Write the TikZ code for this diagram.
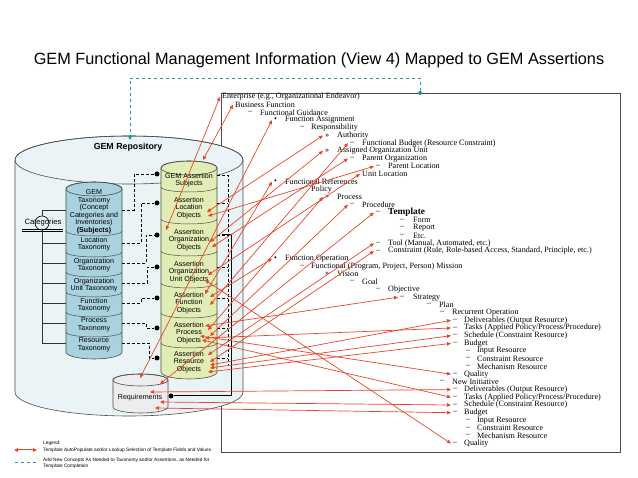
\documentclass[tikz,border=0pt]{standalone}
\usepackage{fontspec}
\setmainfont{Liberation Serif}
\newfontfamily\sans{Liberation Sans}
\usetikzlibrary{arrows.meta}
\definecolor{repo}{HTML}{EAF4F7}
\definecolor{tax}{HTML}{A8D2DE}
\definecolor{ass}{HTML}{E2EDB6}
\definecolor{req}{HTML}{EDEDED}
\definecolor{arr}{HTML}{E8452A}
\definecolor{teal}{HTML}{1A9AA0}
\newcommand{\mycyl}[6]{% x1 x2 ytop ybot ry fill
 \pgfmathsetmacro\rx{(#2-#1)/2}
 \filldraw[fill=#6,draw=black!70,line width=0.6pt] (#1,#3) -- (#1,#4) arc[start angle=180,end angle=0,x radius=\rx,y radius=#5] -- (#2,#3) arc[start angle=0,end angle=-180,x radius=\rx,y radius=#5] -- cycle;
 \draw[draw=black!70,line width=0.6pt] (#1,#3) arc[start angle=180,end angle=-180,x radius=\rx,y radius=#5];}
\newcommand{\mysep}[4]{\pgfmathsetmacro\rx{(#2-#1)/2}\draw[black!70,line width=0.5pt] (#1,#3) arc[start angle=180,end angle=0,x radius=\rx,y radius=#4];}
\newcommand{\PPP}{Tasks (Applied Policy\slash Process\slash Procedure)}
\begin{document}
\begin{tikzpicture}[x=1pt,y=-1pt,
 item/.style={anchor=west,inner sep=0pt,font=\fontsize{8.1}{8.1}\selectfont},
 lab/.style={align=center,inner sep=0pt,font=\sans\fontsize{7.1}{7.5}\selectfont},
 link/.style={arr,line width=0.7pt,{Triangle[length=4pt,width=3.5pt]}-{Triangle[length=4pt,width=3.5pt]}},
 dsh/.style={densely dashed,line width=0.9pt},
 dot/.style={circle,fill=black,inner sep=0pt,minimum size=5pt}]
\useasboundingbox (0,0) rectangle (638,478);
\node[font=\sans\fontsize{16.3}{18}\selectfont] (title) at (319,60) {GEM Functional Management Information (View 4) Mapped to GEM Assertions};
% outline box
\draw[black!70,line width=0.8pt] (221,93) rectangle (620,452);
% repository
\mycyl{15}{243}{160}{392}{24}{repo}
\node[font=\sans\bfseries\fontsize{8.8}{10}\selectfont] (repo) at (128,147) {GEM Repository};
% teal
\node[circle,fill=teal,inner sep=0pt,minimum size=4pt] (td) at (420,93) {};
\coordinate (tt) at (130,140);
\draw[teal,dashed,line width=0.7pt,-{Triangle[length=4pt,width=4pt]}] (td) -- (420,78) -- (130,78) -- (tt);
% taxonomy cylinder
\mycyl{66}{122}{189}{352}{7}{tax}
\foreach \y in {231,252,272,292,312,332}{\mysep{66}{122}{\y}{5}}
\node[lab] (t0) at (94,212) {GEM\\Taxonomy\\(Concept\\Categories and\\Inventories)\\\textbf{(Subjects)}};
\node[lab] (t1) at (94,244) {Location\\Taxonomy};
\node[lab] (t2) at (94,265) {Organization\\Taxonomy};
\node[lab] (t3) at (94,285) {Organization\\Unit Taxonomy};
\node[lab] (t4) at (94,305) {Function\\Taxonomy};
\node[lab] (t5) at (94,325) {Process\\Taxonomy};
\node[lab] (t6) at (94,345) {Resource\\Taxonomy};
% categories
\node[lab,font=\sans\fontsize{7.6}{8}\selectfont] (cat) at (43,223) {Categories};
\draw[line width=0.6pt] (22,229.5) -- (63,229.5) (22,231.5) -- (63,231.5);
\draw[line width=0.6pt] (42,223) circle (7);
\draw[black!80,line width=0.7pt] (42,216) -- (42,210) -- (66,210);
\draw[black!80,line width=0.7pt] (42,230) -- (42,343);
\foreach \y in {243,263,283,303,323,343}{\draw[black!80,line width=0.7pt] (42,\y) -- (66,\y);}
% assertion cylinder
\mycyl{161}{217}{168}{372}{7}{ass}
\foreach \y in {187,219,251,283,313,343}{\mysep{161}{217}{\y}{5}}
\node[lab] (a0) at (189,180) {GEM Assertion\\Subjects};
\node[lab] (a1) at (189,208) {Assertion\\Location\\Objects};
\node[lab] (a2) at (189,240) {Assertion\\Organization\\Objects};
\node[lab] (a3) at (189,272) {Assertion\\Organization\\Unit Objects};
\node[lab] (a4) at (189,303) {Assertion\\Function\\Objects};
\node[lab] (a5) at (189,333) {Assertion\\Process\\Objects};
\node[lab] (a6) at (189,362) {Assertion\\Resource\\Objects};
% requirements
\mycyl{113}{168}{380}{407}{6}{req}
\node[lab] (rq) at (140,398) {Requirements};
% dots and dashed links
\foreach \n/\y/\ty/\vx in {0/174/210/134,1/203/243/141,2/235/263/146,3/267/283/147,4/298/303/141,5/328/323/146,6/358/343/149}{
 \node[dot] (d\n) at (157,\y) {};
 \draw[dsh] (122,\ty) -- (\vx,\ty) -- (\vx,\y) -- (d\n);}
% right dashed
\draw[dsh] (217,175) -- (228,175) -- (228,365);
\foreach \y in {203,235,267,298,328,358}{\draw[dsh] (217,\y) -- (228,\y);}
\node[dot] (rd) at (171,396) {};
\draw[line width=1pt] (rd) -- (231,396) -- (231,235) -- (222,235);
% outline text
\foreach \i/\d/\t/\xd/\xt in {
1//Enterprise (e.g.{,} Organizational Endeavor)/222/222,
2//Business Function/235/235,
3/--/Functional Guidance/248/260,
4/•/Function Assignment/274/285,
5/--/Responsibility/300/311,
6/»/Authority/325/337,
7/--/Functional Budget (Resource Constraint)/350/362,
8/»/Assigned Organization Unit/325/337,
9/--/Parent Organization/350/362,
10/--/Parent Location/376/388,
11//Unit Location/362/362,
12/•/Functional References/274/285,
13/--/Policy/300/311,
14/»/Process/325/337,
15/--/Procedure/350/362,
16/--/\textbf{\fontsize{9.3}{9.3}\selectfont Template}/376/388,
17/--/Form/400/413,
18/--/Report/400/413,
19/--/Etc./400/413,
20/--/Tool (Manual{,} Automated{,} etc.)/376/388,
21/--/Constraint (Rule{,} Role-based Access{,} Standard{,} Principle{,} etc.)/376/388,
22/•/Function Operation/274/285,
23/--/Functional (Program{,} Project{,} Person) Mission/300/311,
24/»/Vision/325/337,
25/--/Goal/350/362,
26/--/Objective/376/388,
27/--/Strategy/400/413,
28/--/Plan/427/439,
29/--/Recurrent Operation/440/452,
30/--/Deliverables (Output Resource)/453/464,
31/--/\PPP/453/464,
32/--/Schedule (Constraint Resource)/453/464,
33/--/Budget/453/464,
34/--/Input Resource/466/477,
35/--/Constraint Resource/466/477,
36/--/Mechanism Resource/466/477,
37/--/Quality/453/464,
38/--/New Initiative/440/452,
39/--/Deliverables (Output Resource)/453/464,
40/--/\PPP/453/464,
41/--/Schedule (Constraint Resource)/453/464,
42/--/Budget/453/464,
43/--/Input Resource/466/477,
44/--/Constraint Resource/466/477,
45/--/Mechanism Resource/466/477,
46/--/Quality/453/464}{
 \pgfmathsetmacro\yy{97+(\i-1)*7.7}
 \node[item] (d\i x) at (\xd,\yy) {\d};
 \node[item] (i\i) at (\xt,\yy) {\t};
 \coordinate (e\i) at ({\xd-2},\yy);}
% arrows
\coordinate (pA) at (166,230); \coordinate (pB) at (203,160); \coordinate (pR) at (140,378);
\draw[link] (pA) -- (e1);
\draw[link] (pB) -- (e2);
\draw[link] (pR) -- (e4);
\draw[link] (207,212) -- (e6);
\draw[link] (210,305) -- (e7);
\draw[link] (210,242) -- (e8);
\draw[link] (212,247) -- (e9);
\draw[link] (208,216) -- (e10);
\draw[link] (208,275) -- (e11);
\draw[link] (205,294) -- (e12);
\draw[link] (208,330) -- (e14);
\draw[link] (210,336) -- (e15);
\draw[link] (160,384) -- (e16);
\draw[link] (208,355) -- (e20);
\draw[link] (210,362) -- (e21);
\draw[link] (210,297) -- (e22);
\draw[link] (205,326) -- (e27);
\draw[link] (210,365) -- (e30);
\draw[link] (205,338) -- (e31);
\draw[link] (210,368) -- (e32);
\draw[link] (208,372) -- (e33);
\draw[link] (200,336) -- (e37);
\draw[link] (150,392) -- (e39);
\draw[link] (202,340) -- (e40);
\draw[link] (160,402) -- (e41);
\draw[link] (155,408) -- (e42);
\draw[link] (205,280) -- (e46);
% legend
\node[anchor=west,inner sep=0pt,font=\sans\fontsize{4.8}{5.6}\selectfont] (lg) at (43,443) {Legend:};
\node[anchor=west,inner sep=0pt,font=\sans\fontsize{4.8}{5.6}\selectfont] (lg1) at (43,450) {Template AutoPopulate and/or Lookup Selection of Template Fields and Values};
\node[anchor=west,inner sep=0pt,align=left,font=\sans\fontsize{4.8}{5.6}\selectfont] (lg2) at (43,463) {Add New Concepts As Needed to Taxonomy and/or Assertions, as Needed for\\Template Completion};
\coordinate (l1a) at (14,450); \coordinate (l1b) at (37,450);
\draw[link,line width=1pt] (l1a) -- (l1b);
\coordinate (l2a) at (15,462); \coordinate (l2b) at (37,462);
\draw[teal,dashed,line width=0.8pt] (l2a) -- (l2b);
\end{tikzpicture}
\end{document}
